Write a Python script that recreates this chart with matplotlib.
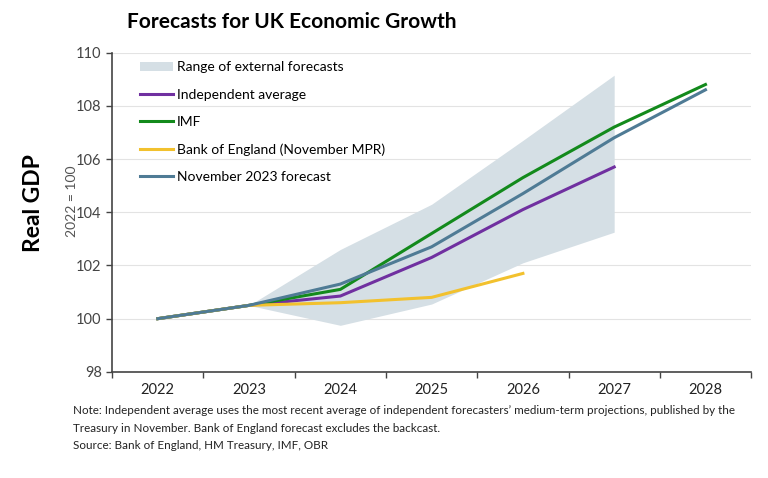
import numpy as np
import matplotlib
matplotlib.use("Agg")
import matplotlib.pyplot as plt

plt.rcParams['font.family'] = ['Lato', 'DejaVu Sans']

years = ['2022', '2023', '2024', '2025', '2026', '2027', '2028']

# range of external forecasts (2023..2027)
range_years = [1, 2, 3, 4, 5]
range_low = [100.5, 99.75, 100.55, 102.1, 103.25]
range_high = [100.5, 102.6, 104.3, 106.7, 109.15]

indep_avg = [100.0, 100.5, 100.85, 102.3, 104.1, 105.7]
imf = [100.0, 100.5, 101.1, 103.2, 105.3, 107.2, 108.8]
boe = [100.0, 100.5, 100.6, 100.8, 101.7]
obr_nov = [100.0, 100.5, 101.3, 102.7, 104.7, 106.8, 108.6]

fig = plt.figure(figsize=(7.68, 4.78), dpi=100)
ax = fig.add_axes([0.146, 0.222, 0.832, 0.668])

ax.fill_between(range_years, range_low, range_high, color='#d5dfe5', lw=0,
                label='Range of external forecasts')
ax.plot(range(len(indep_avg)), indep_avg, color='#7030a0', lw=2.2, label='Independent average')
ax.plot(range(len(imf)), imf, color='#138a1c', lw=2.2, label='IMF')
ax.plot(range(len(boe)), boe, color='#f2c12e', lw=2.2, label='Bank of England (November MPR)')
ax.plot(range(len(obr_nov)), obr_nov, color='#4f7b95', lw=2.2, label='November 2023 forecast')

ax.set_xlim(-0.5, 6.5)
ax.set_ylim(98, 110)
ax.set_yticks(np.arange(98, 111, 2))
ax.set_xticks(range(len(years)))
ax.set_xticklabels(years)
ax.set_xticks(np.arange(-0.5, 6.6, 1), minor=True)
ax.tick_params(axis='x', which='major', length=0, pad=8, labelsize=10.5, colors='#222222')
ax.tick_params(axis='x', which='minor', length=4, width=1, color='#444444')
ax.tick_params(axis='y', length=4, width=1, color='#444444', labelsize=10.5, labelcolor='#444444')
ax.grid(axis='y', color='#e3e3e3', lw=0.8)
ax.set_axisbelow(True)
for s in ['top', 'right']:
    ax.spines[s].set_visible(False)
for s in ['left', 'bottom']:
    ax.spines[s].set_color('#444444')
    ax.spines[s].set_linewidth(1.2)

leg = ax.legend(loc='upper left', frameon=False,
                fontsize=10, handlelength=2.4, handletextpad=0.25,
                labelspacing=1.1, borderaxespad=0.0,
                bbox_to_anchor=(0.035, 0.99))

fig.text(0.38, 0.955, 'Forecasts for UK Economic Growth', fontsize=15,
         fontweight='bold', ha='center', va='center')
fig.text(0.043, 0.575, 'Real GDP', fontsize=16.5, fontweight='bold',
         rotation=90, ha='center', va='center')
fig.text(0.094, 0.58, '2022 = 100', fontsize=10, color='#555555',
         rotation=90, ha='center', va='center')

note = ("Note: Independent average uses the most recent average of independent forecasters\u2019 medium-term projections, published by the\n"
        "Treasury in November. Bank of England forecast excludes the backcast.\n"
        "Source: Bank of England, HM Treasury, IMF, OBR")
fig.text(0.095, 0.153, note, fontsize=8.4, ha='left', va='top', linespacing=1.75,
         color='#222222')

fig.savefig('out.png', dpi=100)
